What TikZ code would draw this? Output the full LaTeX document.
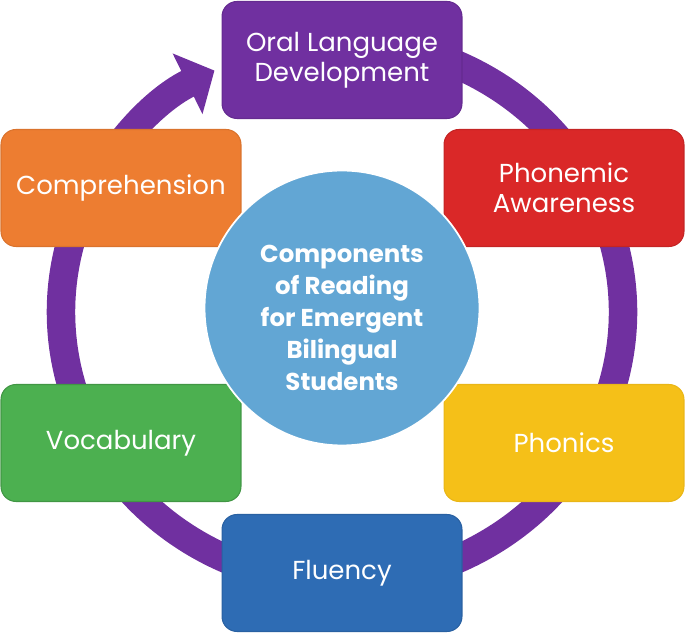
\documentclass[tikz,border=0pt]{standalone}
\usepackage{fontspec}
\setmainfont{Poppins}
\usetikzlibrary{arrows.meta}

\definecolor{oralpurple}{RGB}{112,48,160}
\definecolor{phonred}{RGB}{218,40,40}
\definecolor{phonicsyellow}{RGB}{245,192,24}
\definecolor{fluencyblue}{RGB}{46,108,180}
\definecolor{vocabgreen}{RGB}{76,176,80}
\definecolor{comporange}{RGB}{237,125,49}
\definecolor{centerblue}{RGB}{98,166,212}

\tikzset{
  compbox/.style={rectangle,rounded corners=0.3cm,minimum width=4.8cm,
    minimum height=2.34cm,align=center,text=white,line width=0.6pt,
    font=\fontsize{14.8}{17}\selectfont},
}

\begin{document}
\begin{tikzpicture}[x=0.02cm,y=0.02cm]
  \useasboundingbox (0,0) rectangle (685,634);

  % the cycle
  \draw[line width=0.57cm,oralpurple,-{Triangle[length=0.6cm,width=1.32cm]}]
    ([shift={(70:5.62cm and 5.42cm)}]342,322)
    arc[start angle=70,end angle=-243,x radius=5.62cm,y radius=5.42cm];

  \node[compbox,fill=oralpurple,draw=oralpurple!90!black] (oral) at (342,574) {Oral Language\\Development};
  \node[compbox,fill=phonred,draw=phonred!90!black] (phonemic) at (564,446) {Phonemic\\Awareness};
  \node[compbox,fill=phonicsyellow,draw=phonicsyellow!95!black] (phonics) at (564,191) {Phonics};
  \node[compbox,fill=fluencyblue,draw=fluencyblue!90!black] (fluency) at (342,61) {Fluency};
  \node[compbox,fill=vocabgreen,draw=vocabgreen!85!black] (vocab) at (121,191) {Vocabulary};
  \node[compbox,fill=comporange,draw=comporange!92!black] (compr) at (121,446) {Comprehension};

  \node[circle,fill=centerblue,draw=white,line width=1pt,minimum size=5.5cm]
    (center) at (342,326) {};
  \node[align=center,text=white,font=\bfseries\fontsize{13.9}{18.2}\selectfont]
    (title) at (342,316) {Components\\of Reading\\for Emergent\\Bilingual\\Students};
\end{tikzpicture}
\end{document}
